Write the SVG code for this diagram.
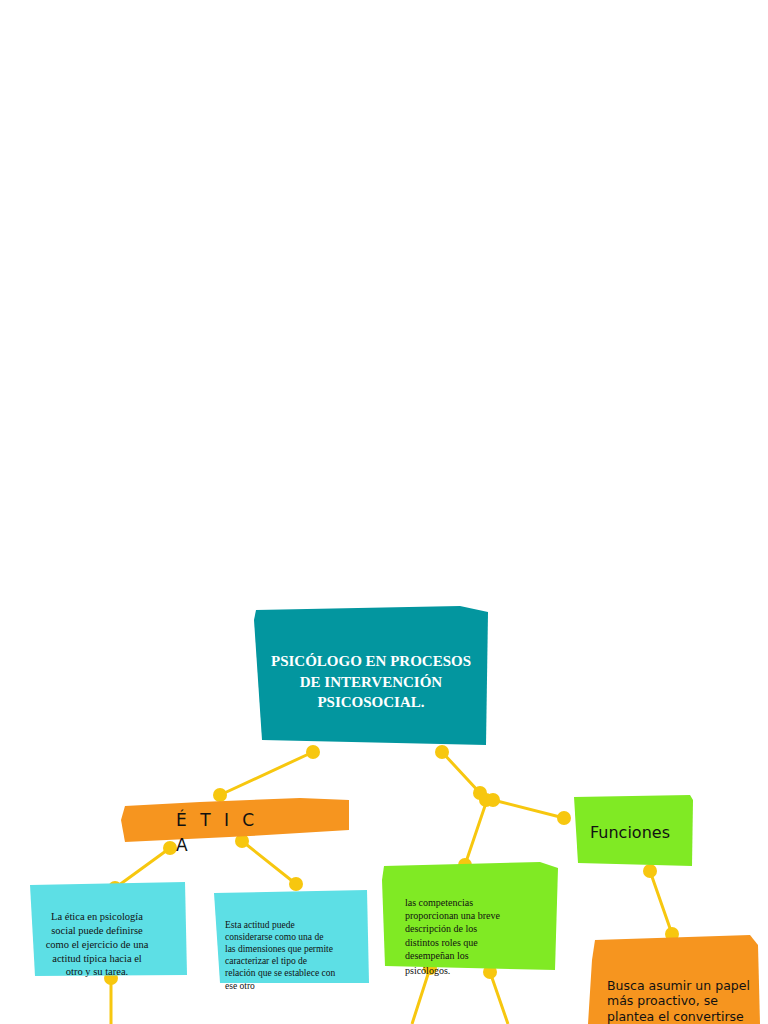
<svg xmlns="http://www.w3.org/2000/svg" width="768" height="1024" viewBox="0 0 768 1024">
<style>
.ln{stroke:#f7c70f;stroke-width:3;fill:none}
.dot{fill:#f7c70f}
.serif{font-family:"Liberation Serif",serif;fill:#111}
.sans{font-family:"DejaVu Sans",sans-serif;fill:#111}
</style>
<rect width="768" height="1024" fill="#fff"/>
<g id="connectors">
<path class="ln" d="M313 752L220 795M170 848L115 888M242 841L296 884M111 978V1024M442 752L480 793L487 800L465 865M493 800L564 818M430 968L412 1024M490 972L508 1024M650 871L672 934"/>
<g>
<circle class="dot" cx="313" cy="752" r="7"/><circle class="dot" cx="220" cy="795" r="7"/>
<circle class="dot" cx="170" cy="848" r="7"/><circle class="dot" cx="115" cy="888" r="7"/>
<circle class="dot" cx="242" cy="841" r="7"/><circle class="dot" cx="296" cy="884" r="7"/>
<circle class="dot" cx="111" cy="978" r="7"/><circle class="dot" cx="442" cy="752" r="7"/>
<circle class="dot" cx="480" cy="793" r="7"/><circle class="dot" cx="486" cy="800" r="7"/>
<circle class="dot" cx="493" cy="800" r="7"/><circle class="dot" cx="564" cy="818" r="7"/>
<circle class="dot" cx="465" cy="865" r="7"/><circle class="dot" cx="430" cy="968" r="7"/>
<circle class="dot" cx="490" cy="972" r="7"/><circle class="dot" cx="650" cy="871" r="7"/>
<circle class="dot" cx="672" cy="934" r="7"/>
</g>
</g>
<g id="title">
<path d="M256 610L460 606L488 612L486 745L262 740L254 620Z" fill="#03969f"/>
<text font-family="Liberation Serif,serif" font-weight="bold" font-size="15" fill="#fff" text-anchor="middle"><tspan x="371" y="666">PSICÓLOGO EN PROCESOS</tspan><tspan x="371" y="687">DE INTERVENCIÓN</tspan><tspan x="371" y="707">PSICOSOCIAL.</tspan></text>
</g>
<g id="etica">
<path d="M125 806L200 802L300 798L349 800L349 830L250 836L125 842L121 820Z" fill="#f6951f"/>
<text class="sans" font-size="17" letter-spacing="4"><tspan x="176" y="826">É T I C</tspan><tspan x="176" y="851">A</tspan></text>
</g>
<g id="etica1">
<path d="M30 885L185 882L187 975L35 976Z" fill="#5ddfe5"/>
<text class="serif" font-size="10.5" text-anchor="middle"><tspan x="97" y="920">La ética en psicología</tspan><tspan x="97" y="934">social puede definirse</tspan><tspan x="97" y="948">como el ejercicio de una</tspan><tspan x="97" y="962">actitud típica hacia el</tspan><tspan x="97" y="975">otro y su tarea.</tspan></text>
</g>
<g id="etica2">
<path d="M214 893L367 890L369 983L220 983Z" fill="#5ddfe5"/>
<text class="serif" font-size="9.5"><tspan x="225" y="928">Esta actitud puede</tspan><tspan x="225" y="940">considerarse como una de</tspan><tspan x="225" y="952">las dimensiones que permite</tspan><tspan x="225" y="964">caracterizar el tipo de</tspan><tspan x="225" y="976">relación que se establece con</tspan><tspan x="225" y="989">ese otro</tspan></text>
</g>
<g id="competencias">
<path d="M384 866L540 862L558 868L555 970L385 966L382 880Z" fill="#80ea24"/>
<text class="serif" font-size="10"><tspan x="405" y="906">las competencias</tspan><tspan x="405" y="919">proporcionan una breve</tspan><tspan x="405" y="932">descripción de los</tspan><tspan x="405" y="946">distintos roles que</tspan><tspan x="405" y="959">desempeñan los</tspan><tspan x="405" y="974">psicólogos.</tspan></text>
</g>
<g id="funciones">
<path d="M574 797L690 795L693 800L692 866L578 863Z" fill="#80ea24"/>
<text class="sans" font-size="16" x="590" y="838">Funciones</text>
</g>
<g id="busca">
<path d="M595 940L750 935L758 945L760 1024L588 1024L592 960Z" fill="#f6951f"/>
<text class="sans" font-size="12.5"><tspan x="607" y="990">Busca asumir un papel</tspan><tspan x="607" y="1005">más proactivo, se</tspan><tspan x="607" y="1021">plantea el  convertirse</tspan></text>
</g>
</svg>
